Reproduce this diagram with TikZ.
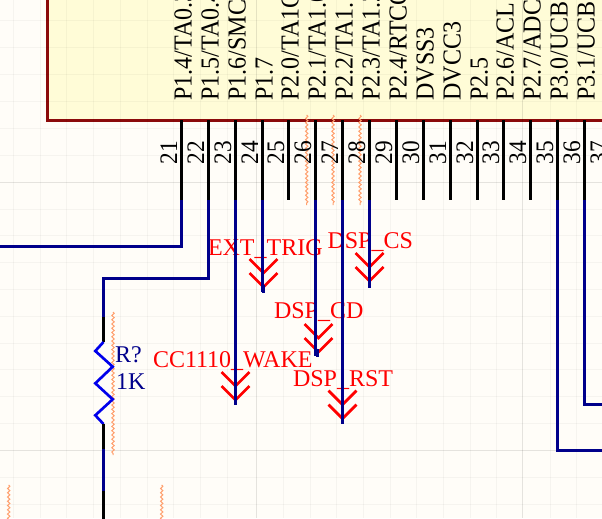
\documentclass[tikz,border=0pt]{standalone}
\usepackage{fontspec}
\setmainfont{Liberation Serif}
\usetikzlibrary{decorations.pathmorphing}
\definecolor{paper}{RGB}{255,253,248}
\definecolor{bodyfill}{RGB}{255,252,215}
\definecolor{bodyline}{RGB}{139,10,10}
\definecolor{wirecol}{RGB}{0,0,139}
\definecolor{rescol}{RGB}{0,0,235}
\definecolor{squig}{RGB}{255,160,110}
\newcommand{\tallfive}[1]{\scalebox{1}[1.08]{#1}}
\tikzset{
  x=0.75pt,y=-0.75pt,
  minorgrid/.style={draw=black,opacity=0.035,line width=0.75pt},
  majorgrid/.style={draw=black,opacity=0.10,line width=1.1pt},
  pinline/.style={draw=black,line width=2.25pt},
  wire/.style={draw=wirecol,line width=2.25pt,line join=miter},
  chevron/.style={draw=red,line width=2.1pt},
  netlabel/.style={text=red,font=\fontsize{18}{18}\selectfont,anchor=base west,inner sep=0pt,outer sep=0pt},
  pinname/.style={text=black,font=\fontsize{18}{20}\selectfont,rotate=90,anchor=base west,inner sep=0pt,outer sep=0pt},
  pinnum/.style={text=black,font=\fontsize{17.5}{18}\selectfont,rotate=90,anchor=base west,inner sep=0pt,outer sep=0pt},
  compval/.style={text=wirecol,font=\fontsize{18}{18}\selectfont,anchor=base west,inner sep=0pt,outer sep=0pt},
  squiggle/.style={draw=squig,line width=0.75pt,decorate,decoration={snake,segment length=3.2pt,amplitude=0.9pt}},
}
\begin{document}
\begin{tikzpicture}
\useasboundingbox (0,0) rectangle (602,518);
\clip (0,0) rectangle (602,518);
\fill[paper] (0,0) rectangle (602,518);
% component body
\path[fill=bodyfill,draw=bodyline,line width=2.25pt] (47.5,-10) -- (47.5,120.5) -- (620,120.5) -- (620,-10) -- cycle;
% grid
\foreach \g in {13,40,66.5,93.5,120,147,173.5,200,227,283,310,336.5,363,390,416.5,443,470,496,550,576,603}
  \draw[minorgrid] (\g,0) -- (\g,518);
\foreach \g in {20.5,47,74,101,128,155,209,235.5,262.5,289,316,343,369.5,396,423,477,504}
  \draw[minorgrid] (0,\g) -- (602,\g);
\draw[majorgrid] (256.5,0) -- (256.5,518);
\draw[majorgrid] (522.5,0) -- (522.5,518);
\draw[majorgrid] (0,182.5) -- (602,182.5);
\draw[majorgrid] (0,450.5) -- (602,450.5);
% squiggles
\draw[squiggle] (306.7,115) -- (306.7,205);
\draw[squiggle] (333,115) -- (333,205);
\draw[squiggle] (360,115) -- (360,205);
\draw[squiggle] (113,312) -- (113,455);
\draw[squiggle] (8.7,485) -- (8.7,525);
\draw[squiggle] (161.7,485) -- (161.7,525);
% pins, numbers and names
\foreach \px/\pn/\ptxt in {181.5/21/P1.4\slash TA0.3,208.5/22/P1.5\slash TA0.4,235.5/23/P1.6\slash SMC,262.5/24/P1.7,288.5/25/P2.0\slash TA1C,315.5/26/P2.1\slash TA1.0,342.5/27/P2.2\slash TA1.1,369.5/28/P2.3\slash TA1.2,396.5/29/P2.4\slash RTCC,423.5/30/DVSS3,450.5/31/DVCC3,477.5/32/P2.5,503.5/33/P2.6\slash ACL,530.5/34/P2.7\slash ADC,557.5/35/P3.0\slash UCB,584.5/36/P3.1\slash UCB,611.5/37/}{
  \coordinate (pin\pn top) at (\px,120);
  \coordinate (pin\pn end) at (\px,199.5);
  \draw[pinline] (pin\pn top) -- (pin\pn end);
  \node[pinnum] (num\pn) at (\px-4.5,164) {\tallfive{\pn}};
  \node[pinname] (name\pn) at (\px+10,100.5) {\tallfive{\ptxt}};
}
% net symbols
\foreach \cx/\cy in {263.5/259,369.5/253,318.5/324,235.5/372,342.5/390.7}{
  \draw[chevron] (\cx-14,\cy) -- (\cx,\cy+14) -- (\cx+14,\cy);
  \draw[chevron] (\cx-14,\cy+14) -- (\cx,\cy+28) -- (\cx+14,\cy+14);
}
% net labels
\node[netlabel] (lbltrig) at (208,255) {EXT\_TRIG};
\node[netlabel] (lblcs) at (327.5,248) {DSP\_CS};
\node[netlabel] (lblcd) at (274,318.5) {DSP\_CD};
\node[netlabel] (lblwake) at (153,367) {CC1110\_WAKE};
\node[netlabel] (lblrst) at (293,386) {DSP\_RST};
% wires
\coordinate (w21) at (0,246);
\draw[wire] (pin21end) -- (pin21end |- w21) -- (w21);
\coordinate (rtop) at (103.5,317);
\draw[wire] (pin22end) -- (208.5,278.5) -- (103.5,278.5) -- (rtop);
\coordinate (e23) at (235.5,405);
\draw[wire] (pin23end) -- (e23);
\coordinate (e24) at (262.5,292);
\draw[wire] (pin24end) -- (e24) (263.6,285) -- (263.6,293);
\coordinate (e26) at (315.5,356);
\draw[wire] (pin26end) -- (e26) (317.5,349) -- (317.5,357);
\coordinate (e27) at (342.5,424);
\draw[wire] (pin27end) -- (e27);
\coordinate (e28) at (369.5,287.5);
\draw[wire] (pin28end) -- (e28);
\draw[wire] (pin35end) -- (557.5,450.5) -- (610,450.5);
\draw[wire] (pin36end) -- (584.5,404.5) -- (610,404.5);
% resistor
\coordinate (rzigtop) at (103.5,342);
\coordinate (rzigbot) at (103.5,424);
\coordinate (rpinbot) at (103.5,449);
\coordinate (rnetbot) at (103.5,491);
\coordinate (rbot) at (103.5,525);
\draw[pinline] (rtop) -- (rzigtop);
\draw[draw=rescol,line width=2pt] (rzigtop) -- (95.3,351) -- (112.7,366.7) -- (95.3,383.3) -- (112.7,399.3) -- (95.3,415.3) -- (rzigbot);
\draw[pinline] (rzigbot) -- (rpinbot);
\draw[wire] (rpinbot) -- (rnetbot);
\draw[pinline] (rnetbot) -- (rbot);
\node[compval] (rname) at (115,362) {R?};
\node[compval] (rval) at (116,389) {1K};
\end{tikzpicture}
\end{document}
